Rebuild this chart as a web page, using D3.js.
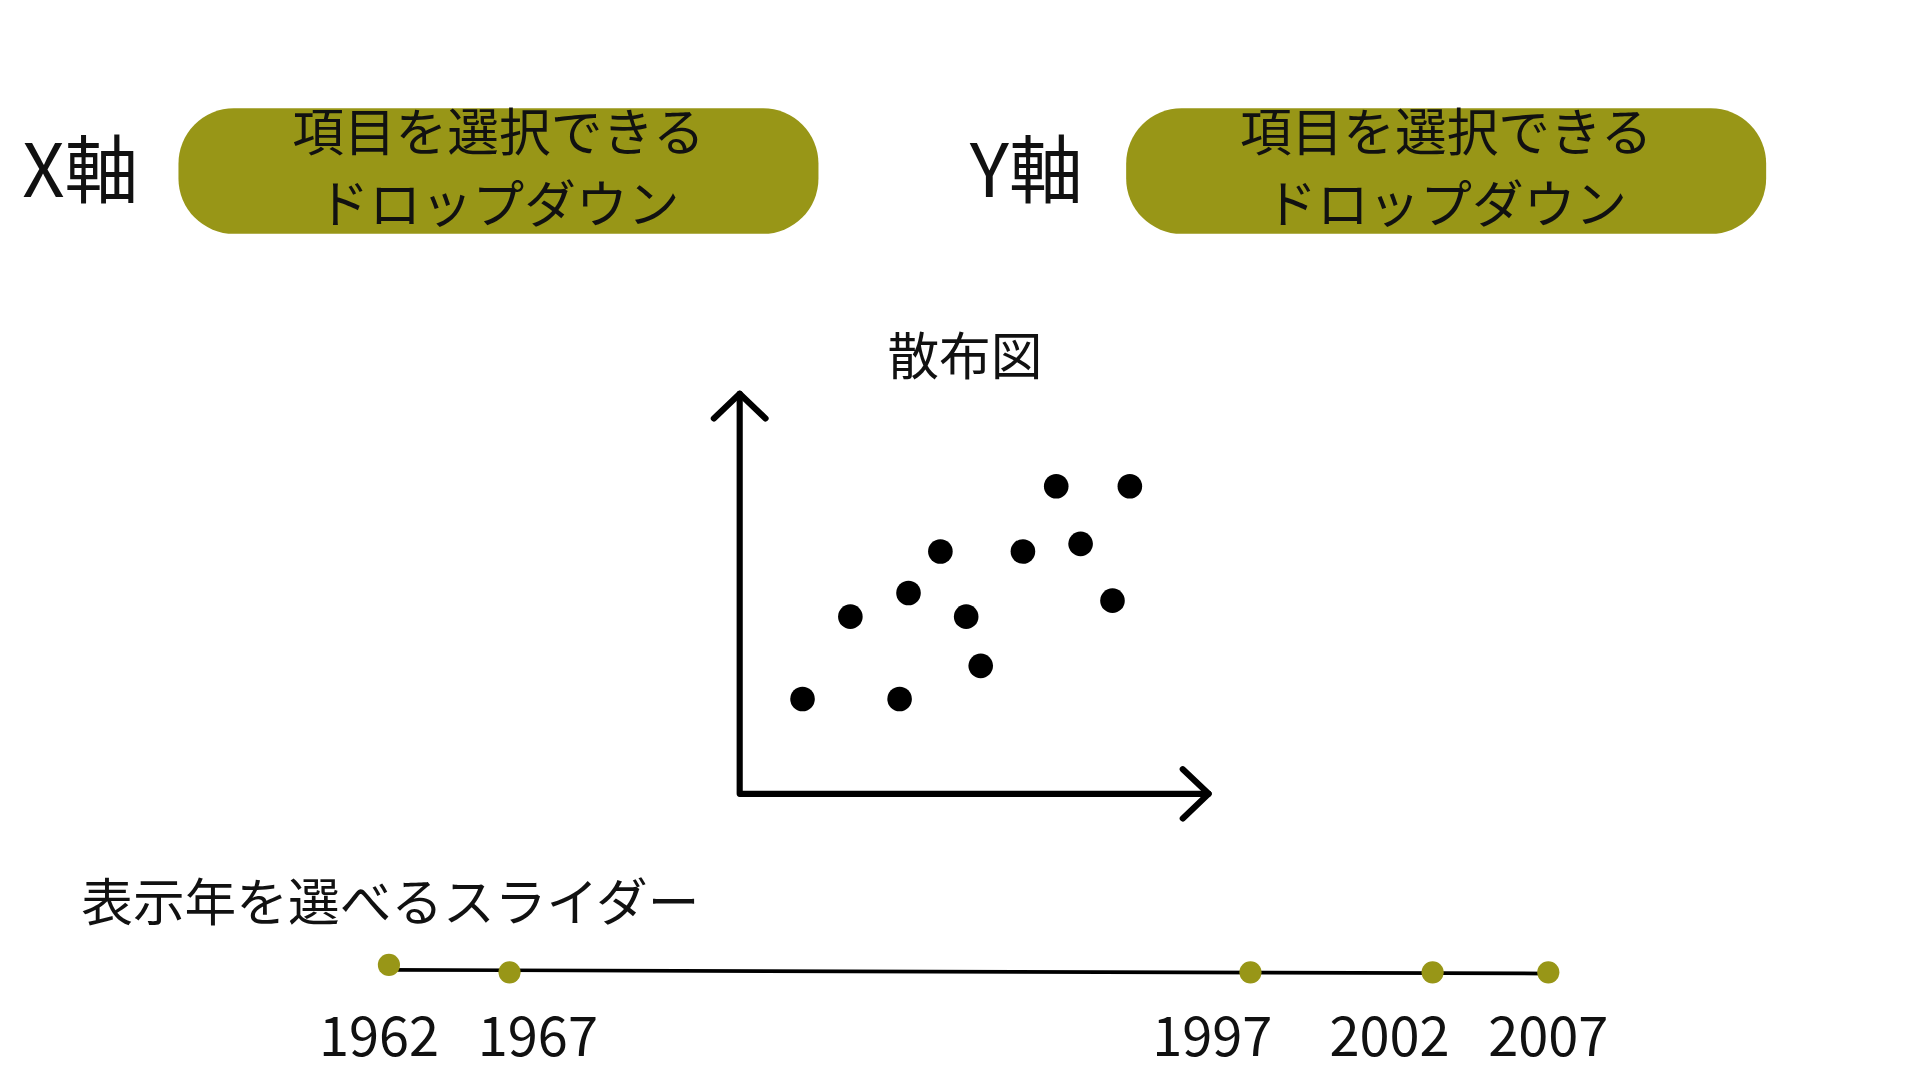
<!DOCTYPE html>
<html>
<head>
<meta charset="utf-8">
<script src="https://cdn.jsdelivr.net/npm/d3@7"></script>
<style>
  body { margin: 0; background: #fff; }
  text { font-family: "Noto Sans CJK JP", "Noto Sans", sans-serif; fill: #111; }
</style>
</head>
<body>
<svg id="chart" width="1920" height="1080" viewBox="0 0 1560 877.5"></svg>
<script>
// dropdowns
const dropdownAxes = ["X軸", "Y軸"];
const dropdownLines = ["項目を選択できる", "ドロップダウン"];
const chartTitle = "散布図";
const sliderTitle = "表示年を選べるスライダー";

// scatter points (arbitrary units 0-10)
const pointX = [1.34, 2.36, 3.41, 3.6, 4.28, 4.83, 5.14, 6.04, 6.75, 7.27, 7.95, 8.32];
const pointY = [2.37, 4.43, 2.37, 5.02, 6.06, 4.43, 3.2, 6.06, 7.69, 6.25, 4.83, 7.69];

// slider years
const years = [1962, 1967, 1997, 2002, 2007];

const olive = "#989617";
const svg = d3.select("#chart");

// ---- dropdowns
const dd = svg.selectAll(".dd").data(dropdownAxes).enter().append("g")
    .attr("class", "dd")
    .attr("transform", (d, i) => `translate(${i * 770}, 0)`);

dd.append("text")
    .attr("x", 18).attr("y", 160)
    .style("font-size", "60px")
    .text(d => d);

dd.append("rect")
    .attr("x", 145).attr("y", 88)
    .attr("width", 520).attr("height", 102)
    .attr("rx", 45)
    .attr("fill", olive);

dd.selectAll(".line").data(dropdownLines).enter().append("text")
    .attr("x", 405)
    .attr("y", (d, i) => 123 + i * 58)
    .attr("text-anchor", "middle")
    .style("font-size", "42px")
    .text(d => d);

// ---- scatter
svg.append("text")
    .attr("x", 784).attr("y", 305)
    .attr("text-anchor", "middle")
    .style("font-size", "42px")
    .text(chartTitle);

const mapX = d3.scaleLinear().domain([0, 10]).range([601, 982]);
const mapY = d3.scaleLinear().domain([0, 10]).range([645, 320]);

const axis = svg.append("g")
    .attr("fill", "none")
    .attr("stroke", "#000")
    .attr("stroke-width", 5)
    .attr("stroke-linecap", "round")
    .attr("stroke-linejoin", "round");

axis.append("path")
    .attr("d", `M${mapX(0)},${mapY(10)} L${mapX(0)},${mapY(0)} L${mapX(10)},${mapY(0)}`);
axis.append("path")
    .attr("d", `M${mapX(0) - 21},${mapY(10) + 20} L${mapX(0)},${mapY(10)} L${mapX(0) + 21},${mapY(10) + 20}`);
axis.append("path")
    .attr("d", `M${mapX(10) - 21},${mapY(0) - 20} L${mapX(10)},${mapY(0)} L${mapX(10) - 21},${mapY(0) + 20}`);

svg.append("g")
    .selectAll("circle")
    .data(pointX.map((x, i) => ({ x, y: pointY[i] })))
    .enter()
    .append("circle")
    .attr("cx", d => mapX(d.x))
    .attr("cy", d => mapY(d.y))
    .attr("r", 10)
    .attr("fill", "#000");

// ---- slider
svg.append("text")
    .attr("x", 66).attr("y", 748)
    .style("font-size", "42px")
    .text(sliderTitle);

const mapYear = d3.scaleLinear().domain([1962, 1967, 1997, 2002, 2007]).range([316, 414, 1016, 1164, 1258]);
const labelShift = [-8, 23, -31, -35, 0];

svg.append("line")
    .attr("x1", mapYear(1962)).attr("y1", 788)
    .attr("x2", mapYear(2007)).attr("y2", 791)
    .attr("stroke", "#000").attr("stroke-width", 3);

svg.append("g").selectAll("circle")
    .data(years).enter().append("circle")
    .attr("cx", d => mapYear(d))
    .attr("cy", (d, i) => i === 0 ? 784 : 790)
    .attr("r", 9)
    .attr("fill", olive);

svg.append("g").selectAll("text")
    .data(years).enter().append("text")
    .attr("x", (d, i) => mapYear(d) + labelShift[i])
    .attr("y", 858)
    .attr("text-anchor", "middle")
    .style("font-size", "44px")
    .text(d => d);
</script>
</body>
</html>
